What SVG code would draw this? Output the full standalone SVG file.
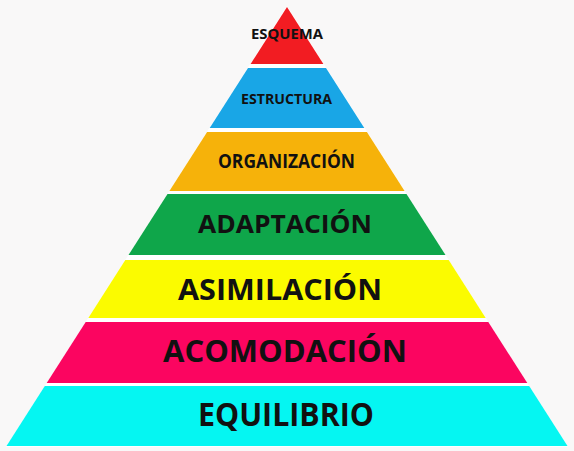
<svg xmlns="http://www.w3.org/2000/svg" width="574" height="451" viewBox="0 0 574 451">
<style>
text{font-family:"Open Sans","Noto Sans","Liberation Sans",sans-serif;font-weight:700;fill:#111;text-anchor:middle}
</style>
<rect width="574" height="451" fill="#f9f8f8"/>
<polygon points="287,6 568,447 6,447" fill="#ffffff"/>
<g id="n1"><polygon points="287,7 323.4,64 250.6,64" fill="#f21c22"/><text x="287" y="39" font-size="15" textLength="72" lengthAdjust="spacingAndGlyphs">ESQUEMA</text></g>
<g id="n2"><polygon points="248,68 326,68 364.3,128 209.7,128" fill="#19a6e6"/><text x="286.5" y="104" font-size="14" textLength="91" lengthAdjust="spacingAndGlyphs">ESTRUCTURA</text></g>
<g id="n3"><polygon points="207.1,132 366.9,132 404.6,191 169.4,191" fill="#f6b20a"/><text x="286.5" y="168" font-size="19" textLength="137" lengthAdjust="spacingAndGlyphs">ORGANIZACIÓN</text></g>
<g id="n4"><polygon points="167.5,194 406.5,194 445.5,255 128.5,255" fill="#0fa64a"/><text x="285" y="233" font-size="24.5" textLength="174" lengthAdjust="spacingAndGlyphs">ADAPTACIÓN</text></g>
<g id="n5"><polygon points="125.3,260 448.7,260 485.7,318 88.3,318" fill="#fbfb00"/><text x="280" y="300" font-size="28.5" textLength="204" lengthAdjust="spacingAndGlyphs">ASIMILACIÓN</text></g>
<g id="n6"><polygon points="85.7,322 488.3,322 527.3,383 46.7,383" fill="#fb0560"/><text x="285" y="362" font-size="31" textLength="244" lengthAdjust="spacingAndGlyphs">ACOMODACIÓN</text></g>
<g id="n7"><polygon points="44.8,386 529.2,386 567.5,446 6.5,446" fill="#05f6f2"/><text x="286" y="426" font-size="32.5" textLength="176" lengthAdjust="spacingAndGlyphs">EQUILIBRIO</text></g>
<g id="connectors"/>
</svg>
